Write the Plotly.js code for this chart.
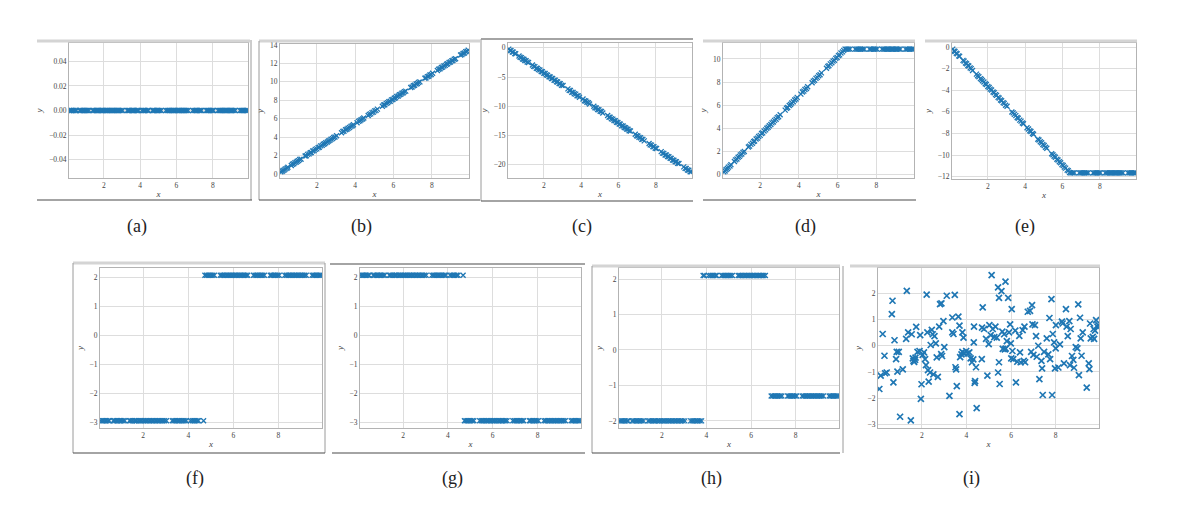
<!DOCTYPE html>
<html>
<head>
<meta charset="utf-8">
<script src="https://cdn.plot.ly/plotly-3.0.1.min.js"></script>
<style>
  html, body { margin: 0; padding: 0; background: #fff; }
  #chart { width: 1188px; height: 507px; }
</style>
</head>
<body>
<div id="chart"></div>
<script>
// shared x sample used by panels (a)-(h)
const xs = [
  0.12, 0.19, 0.24, 0.31, 0.36, 0.44, 0.49,
  0.67, 0.73, 0.80, 0.86, 0.93, 0.98, 1.05, 1.11, 1.18,
  1.39, 1.45, 1.52, 1.60, 1.66, 1.71, 1.79, 1.86, 1.92, 2.00, 2.07, 2.13, 2.20, 2.28, 2.34, 2.41, 2.47, 2.55, 2.61, 2.68, 2.74, 2.82, 2.88, 2.95, 3.03,
  3.29, 3.36, 3.42, 3.50, 3.57, 3.63, 3.71, 3.78, 3.85, 3.91,
  4.10, 4.18, 4.25, 4.31, 4.39, 4.45,
  4.68, 4.74, 4.81, 4.88, 4.95, 5.02, 5.09, 5.16,
  5.42, 5.49, 5.55, 5.62, 5.70, 5.76, 5.83, 5.90, 5.97, 6.04, 6.10, 6.17, 6.25, 6.31, 6.38,
  6.44, 6.51, 6.57, 6.64, 6.90, 6.97, 7.04, 7.10, 7.18, 7.25, 7.31, 7.38,
  7.64, 7.70, 7.77, 7.84, 7.90, 7.97, 8.04, 8.29, 8.36, 8.43, 8.50, 8.56, 8.63, 8.70, 8.77, 8.83, 8.90, 8.97, 9.04, 9.10, 9.17, 9.24,
  9.50, 9.57, 9.63, 9.70, 9.77, 9.84, 9.90
];

const yA = [
  0, 0, 0, 0, 0, 0, 0,
  0, 0, 0, 0, 0, 0, 0, 0, 0,
  0, 0, 0, 0, 0, 0, 0, 0, 0, 0, 0, 0, 0, 0, 0, 0, 0, 0, 0, 0, 0, 0, 0, 0, 0,
  0, 0, 0, 0, 0, 0, 0, 0, 0, 0,
  0, 0, 0, 0, 0, 0,
  0, 0, 0, 0, 0, 0, 0, 0,
  0, 0, 0, 0, 0, 0, 0, 0, 0, 0, 0, 0, 0, 0, 0,
  0, 0, 0, 0, 0, 0, 0, 0, 0, 0, 0, 0,
  0, 0, 0, 0, 0, 0, 0, 0, 0, 0, 0, 0, 0, 0, 0, 0, 0, 0, 0, 0, 0, 0,
  0, 0, 0, 0, 0, 0, 0
];

const yB = [
  0.23, 0.29, 0.39, 0.45, 0.56, 0.62, 0.73,
  0.93, 1.06, 1.11, 1.24, 1.29, 1.39, 1.45, 1.57, 1.62,
  1.95, 1.99, 2.13, 2.19, 2.31, 2.34, 2.49, 2.54, 2.67, 2.73, 2.86, 2.91, 3.05, 3.11, 3.23, 3.28, 3.40, 3.47, 3.59, 3.65, 3.77, 3.84, 3.96, 4.01, 4.16,
  4.47, 4.61, 4.65, 4.80, 4.85, 4.97, 5.04, 5.17, 5.23, 5.35,
  5.57, 5.71, 5.77, 5.89, 5.96, 6.08,
  6.35, 6.47, 6.52, 6.66, 6.71, 6.85, 6.90, 7.04,
  7.35, 7.48, 7.52, 7.66, 7.73, 7.85, 7.90, 8.04, 8.09, 8.22, 8.27, 8.40, 8.47, 8.59, 8.64,
  8.76, 8.82, 8.94, 8.99, 9.39, 9.44, 9.57, 9.62, 9.76, 9.82, 9.94, 9.99,
  10.38, 10.43, 10.56, 10.61, 10.74, 10.79, 10.92, 11.22, 11.36, 11.41, 11.55, 11.59, 11.72, 11.78, 11.91, 11.95, 12.09, 12.14, 12.27, 12.32, 12.45, 12.50,
  12.90, 12.95, 13.07, 13.13, 13.26, 13.31, 13.44
];

const yC = [
  -0.22, -0.45, -0.48, -0.71, -0.73, -0.99, -1.01,
  -1.40, -1.62, -1.68, -1.90, -1.96, -2.16, -2.22, -2.44, -2.50,
  -2.95, -3.17, -3.22, -3.49, -3.52, -3.73, -3.80, -4.05, -4.08, -4.36, -4.40, -4.63, -4.68, -4.96, -4.98, -5.24, -5.26, -5.54, -5.56, -5.82, -5.84, -6.12, -6.14, -6.40, -6.46,
  -7.02, -7.28, -7.30, -7.59, -7.63, -7.86, -7.93, -8.19, -8.23, -8.47,
  -8.77, -9.05, -9.09, -9.33, -9.39, -9.63,
  -10.01, -10.25, -10.29, -10.55, -10.59, -10.85, -10.89, -11.15,
  -11.60, -11.86, -11.88, -12.14, -12.21, -12.44, -12.48, -12.75, -12.79, -13.05, -13.07, -13.33, -13.39, -13.63, -13.67,
  -13.91, -13.95, -14.19, -14.23, -14.79, -15.05, -15.09, -15.33, -15.39, -15.65, -15.67, -15.93,
  -16.38, -16.62, -16.66, -16.92, -16.94, -17.20, -17.24, -17.77, -18.03, -18.07, -18.34, -18.35, -18.61, -18.66, -18.92, -18.93, -19.20, -19.24, -19.50, -19.52, -19.78, -19.82,
  -20.38, -20.64, -20.65, -20.92, -20.96, -21.22, -21.24
];

const yD = [
  0.22, 0.30, 0.43, 0.51, 0.63, 0.73, 0.85,
  1.12, 1.26, 1.34, 1.48, 1.56, 1.69, 1.77, 1.91, 1.99,
  2.38, 2.45, 2.60, 2.70, 2.84, 2.89, 3.06, 3.14, 3.28, 3.38, 3.54, 3.60, 3.76, 3.86, 4.00, 4.08, 4.22, 4.32, 4.46, 4.54, 4.68, 4.77, 4.92, 5.00, 5.17,
  5.57, 5.73, 5.79, 5.97, 6.05, 6.19, 6.29, 6.45, 6.53, 6.67,
  6.95, 7.13, 7.21, 7.35, 7.44, 7.59,
  7.94, 8.08, 8.16, 8.32, 8.40, 8.55, 8.63, 8.79,
  9.19, 9.35, 9.42, 9.57, 9.67, 9.81, 9.89, 10.05, 10.13, 10.29, 10.35, 10.51, 10.61, 10.74, 10.85,
  10.85, 10.85, 10.85, 10.85, 10.85, 10.85, 10.85, 10.85, 10.85, 10.85, 10.85, 10.85,
  10.85, 10.85, 10.85, 10.85, 10.85, 10.85, 10.85, 10.85, 10.85, 10.85, 10.85, 10.85, 10.85, 10.85, 10.85, 10.85, 10.85, 10.85, 10.85, 10.85, 10.85, 10.85,
  10.85, 10.85, 10.85, 10.85, 10.85, 10.85, 10.85
];

const yE = [
  -0.20, -0.37, -0.42, -0.58, -0.64, -0.82, -0.87,
  -1.24, -1.31, -1.48, -1.55, -1.71, -1.76, -1.93, -2.00, -2.17,
  -2.51, -2.66, -2.75, -2.93, -3.00, -3.13, -3.24, -3.41, -3.47, -3.66, -3.75, -3.90, -3.98, -4.17, -4.24, -4.41, -4.48, -4.66, -4.73, -4.90, -4.97, -5.15, -5.22, -5.39, -5.49,
  -6.01, -6.10, -6.24, -6.35, -6.52, -6.59, -6.77, -6.86, -7.03, -7.10,
  -7.48, -7.59, -7.76, -7.82, -8.01, -8.08,
  -8.54, -8.61, -8.77, -8.86, -9.03, -9.12, -9.28, -9.37,
  -9.88, -9.97, -10.12, -10.21, -10.39, -10.46, -10.63, -10.72, -10.89, -10.97, -11.12, -11.21, -11.40, -11.46, -11.62,
  -11.65, -11.65, -11.65, -11.65, -11.65, -11.65, -11.65, -11.65, -11.65, -11.65, -11.65, -11.65,
  -11.65, -11.65, -11.65, -11.65, -11.65, -11.65, -11.65, -11.65, -11.65, -11.65, -11.65, -11.65, -11.65, -11.65, -11.65, -11.65, -11.65, -11.65, -11.65, -11.65, -11.65, -11.65,
  -11.65, -11.65, -11.65, -11.65, -11.65, -11.65, -11.65
];

const yF = [
  -2.95, -2.95, -2.95, -2.95, -2.95, -2.95, -2.95,
  -2.95, -2.95, -2.95, -2.95, -2.95, -2.95, -2.95, -2.95, -2.95,
  -2.95, -2.95, -2.95, -2.95, -2.95, -2.95, -2.95, -2.95, -2.95, -2.95, -2.95, -2.95, -2.95, -2.95, -2.95, -2.95, -2.95, -2.95, -2.95, -2.95, -2.95, -2.95, -2.95, -2.95, -2.95,
  -2.95, -2.95, -2.95, -2.95, -2.95, -2.95, -2.95, -2.95, -2.95, -2.95,
  -2.95, -2.95, -2.95, -2.95, -2.95, -2.95,
  -2.95, 2.07, 2.07, 2.07, 2.07, 2.07, 2.07, 2.07,
  2.07, 2.07, 2.07, 2.07, 2.07, 2.07, 2.07, 2.07, 2.07, 2.07, 2.07, 2.07, 2.07, 2.07, 2.07,
  2.07, 2.07, 2.07, 2.07, 2.07, 2.07, 2.07, 2.07, 2.07, 2.07, 2.07, 2.07,
  2.07, 2.07, 2.07, 2.07, 2.07, 2.07, 2.07, 2.07, 2.07, 2.07, 2.07, 2.07, 2.07, 2.07, 2.07, 2.07, 2.07, 2.07, 2.07, 2.07, 2.07, 2.07,
  2.07, 2.07, 2.07, 2.07, 2.07, 2.07, 2.07
];

const yG = [
  2.07, 2.07, 2.07, 2.07, 2.07, 2.07, 2.07,
  2.07, 2.07, 2.07, 2.07, 2.07, 2.07, 2.07, 2.07, 2.07,
  2.07, 2.07, 2.07, 2.07, 2.07, 2.07, 2.07, 2.07, 2.07, 2.07, 2.07, 2.07, 2.07, 2.07, 2.07, 2.07, 2.07, 2.07, 2.07, 2.07, 2.07, 2.07, 2.07, 2.07, 2.07,
  2.07, 2.07, 2.07, 2.07, 2.07, 2.07, 2.07, 2.07, 2.07, 2.07,
  2.07, 2.07, 2.07, 2.07, 2.07, 2.07,
  2.07, -2.95, -2.95, -2.95, -2.95, -2.95, -2.95, -2.95,
  -2.95, -2.95, -2.95, -2.95, -2.95, -2.95, -2.95, -2.95, -2.95, -2.95, -2.95, -2.95, -2.95, -2.95, -2.95,
  -2.95, -2.95, -2.95, -2.95, -2.95, -2.95, -2.95, -2.95, -2.95, -2.95, -2.95, -2.95,
  -2.95, -2.95, -2.95, -2.95, -2.95, -2.95, -2.95, -2.95, -2.95, -2.95, -2.95, -2.95, -2.95, -2.95, -2.95, -2.95, -2.95, -2.95, -2.95, -2.95, -2.95, -2.95,
  -2.95, -2.95, -2.95, -2.95, -2.95, -2.95, -2.95
];

const yH = [
  -2.0, -2.0, -2.0, -2.0, -2.0, -2.0, -2.0,
  -2.0, -2.0, -2.0, -2.0, -2.0, -2.0, -2.0, -2.0, -2.0,
  -2.0, -2.0, -2.0, -2.0, -2.0, -2.0, -2.0, -2.0, -2.0, -2.0, -2.0, -2.0, -2.0, -2.0, -2.0, -2.0, -2.0, -2.0, -2.0, -2.0, -2.0, -2.0, -2.0, -2.0, -2.0,
  -2.0, -2.0, -2.0, -2.0, -2.0, -2.0, -2.0, -2.0, 2.1, 2.1,
  2.1, 2.1, 2.1, 2.1, 2.1, 2.1,
  2.1, 2.1, 2.1, 2.1, 2.1, 2.1, 2.1, 2.1,
  2.1, 2.1, 2.1, 2.1, 2.1, 2.1, 2.1, 2.1, 2.1, 2.1, 2.1, 2.1, 2.1, 2.1, 2.1,
  2.1, 2.1, 2.1, 2.1, -1.3, -1.3, -1.3, -1.3, -1.3, -1.3, -1.3, -1.3,
  -1.3, -1.3, -1.3, -1.3, -1.3, -1.3, -1.3, -1.3, -1.3, -1.3, -1.3, -1.3, -1.3, -1.3, -1.3, -1.3, -1.3, -1.3, -1.3, -1.3, -1.3, -1.3,
  -1.3, -1.3, -1.3, -1.3, -1.3, -1.3, -1.3
];

// panel (i): noisy scatter
const xI = [
  0.10, 0.16, 0.25, 0.33, 0.36, 0.43, 0.66, 0.69, 0.73, 0.78, 0.85, 0.88, 0.91, 0.97, 1.03, 1.15,
  1.33, 1.30, 1.39, 1.51, 1.55, 1.60, 1.63, 1.66, 1.70, 1.72, 1.75, 1.81, 1.90, 1.93, 1.99, 1.96,
  2.04, 2.10, 2.15, 2.19, 2.22, 2.25, 2.28, 2.31, 2.37, 2.40, 2.45, 2.49, 2.52, 2.57, 2.63, 2.67,
  2.72, 2.78, 2.82, 2.88, 2.87, 2.91, 2.97, 3.01, 3.12, 3.24, 3.37, 3.37, 3.42, 3.48, 3.51, 3.54,
  3.57, 3.64, 3.69, 3.69, 3.72, 3.78, 3.82, 3.82, 3.87, 3.91, 3.99, 4.06, 4.13, 4.19, 4.25, 4.31,
  4.33, 4.34, 4.39, 4.37, 4.43, 4.46, 4.69, 4.73, 4.70, 4.79, 4.88, 4.94, 5.00, 5.03, 5.09, 5.13,
  5.18, 5.25, 5.30, 5.36, 5.42, 5.42, 5.46, 5.46, 5.49, 5.57, 5.61, 5.63, 5.69, 5.72, 5.75, 5.76,
  5.81, 5.87, 5.91, 5.96, 5.99, 6.01, 6.03, 6.06, 6.10, 6.19, 6.22, 6.28, 6.37, 6.40, 6.43, 6.52,
  6.57, 6.60, 6.63, 6.75, 6.85, 6.90, 6.94, 6.96, 7.00, 7.07, 7.12, 7.15, 7.22, 7.27, 7.36, 7.39,
  7.42, 7.48, 7.60, 7.67, 7.72, 7.75, 7.81, 7.84, 7.87, 7.93, 7.97, 8.00, 8.01, 8.12, 8.19, 8.28,
  8.31, 8.37, 8.46, 8.49, 8.54, 8.61, 8.64, 8.67, 8.73, 8.79, 8.82, 8.90, 8.97, 9.01, 9.04, 9.09,
  9.12, 9.16, 9.21, 9.39, 9.48, 9.51, 9.54, 9.57, 9.66, 9.72, 9.76, 9.81, 9.87, 9.91, 9.70
];
const yI = [
  -1.65, -1.14, 0.45, -0.38, -1.05, -1.02, 1.21, 1.72, -1.40, 0.21, -0.51, -0.23, -0.99, -0.23, -2.71, -0.90,
  2.10, 0.26, 0.51, -2.85, 0.44, -0.48, -0.58, -0.62, -0.54, -0.45, 0.72, -0.23, -0.20, 0.41, -1.47, -2.03,
  -0.35, -0.25, -0.51, -0.74, 1.95, 0.51, -0.93, -1.37, -1.02, 0.03, 0.61, 0.44, -1.09, 0.37, 0.09, -0.44,
  -1.19, 0.73, 1.59, 1.62, -0.32, -0.39, 0.94, -0.05, 1.91, -1.91, 1.08, 0.51, 0.45, 1.94, -0.82, -0.90,
  -1.54, 1.11, 0.77, -2.61, -0.43, -0.33, -0.23, 0.51, 0.31, -0.29, -0.20, -0.29, -0.25, -0.48, -0.63, -0.52,
  0.13, 0.73, -1.35, -1.42, -0.82, -2.38, -0.51, 1.47, 0.69, 0.64, 0.26, -1.14, 0.06, 0.79, 0.41, 2.70,
  0.64, 0.33, 0.73, 0.31, 2.23, -1.02, 1.83, -0.63, -1.46, 2.09, 0.54, -0.12, 0.44, -0.14, 2.45, -0.11,
  0.18, 1.83, 0.51, 0.82, 0.09, -0.48, 1.40, -0.20, -0.51, 0.58, -1.40, -0.61, 0.38, -0.25, -0.63, 0.60,
  -0.58, 0.73, -0.63, 1.30, 1.33, -0.23, 1.55, 0.82, -0.35, 0.79, 0.37, -0.42, 0.00, -1.27, -0.58, -0.86,
  -1.88, -0.23, 0.28, -0.33, 1.06, -0.51, 1.78, -1.88, 0.45, 0.13, -0.86, -0.10, 0.79, -0.83, 0.05, 0.92,
  0.85, -0.67, 1.40, 0.73, 0.37, 0.94, -0.74, 0.64, -0.39, -0.54, -0.84, -0.05, -0.10, 1.58, -1.12, 1.07,
  0.28, -0.38, 0.51, -1.60, -0.67, -0.89, 0.85, 0.28, 0.34, 0.26, 0.58, 0.98, 0.73, 0.79, 0.64
];

const captions = ['(a)', '(b)', '(c)', '(d)', '(e)', '(f)', '(g)', '(h)', '(i)'];

const W = 1188, H = 507;
const BLUE = '#1f77b4';
const SERIF = 'Liberation Serif, DejaVu Serif, serif';

// plot-area boxes in pixels: [left, right, top, bottom]
const panels = [
  { x: xs, y: yA, box: [69, 248, 43, 178],   xr: [0.08, 9.94], yr: [-0.055, 0.055], dy: 0.02, fmt: '.2f', cap: [137, 226] },
  { x: xs, y: yB, box: [280, 469, 44, 178],  xr: [0.08, 9.94], yr: [-0.43, 14.1],   dy: 2, cap: [361, 226] },
  { x: xs, y: yC, box: [508, 692, 43, 178],  xr: [0.08, 9.94], yr: [-22.29, 0.83],  dy: 5, cap: [582, 226] },
  { x: xs, y: yD, box: [723, 914, 43, 178],  xr: [0.08, 9.94], yr: [-0.31, 11.38],  dy: 2, cap: [805, 226] },
  { x: xs, y: yE, box: [952, 1136, 43, 179], xr: [0.08, 9.94], yr: [-12.22, 0.37],  dy: 2, cap: [1025, 226] },
  { x: xs, y: yF, box: [100, 322, 268, 428], xr: [0.08, 9.94], yr: [-3.2, 2.32],    dy: 1, cap: [195, 478] },
  { x: xs, y: yG, box: [360, 581, 268, 428], xr: [0.08, 9.94], yr: [-3.2, 2.32],    dy: 1, cap: [452, 478] },
  { x: xs, y: yH, box: [619, 839, 268, 428], xr: [0.08, 9.94], yr: [-2.2, 2.31],    dy: 1, cap: [711, 478] },
  { x: xI, y: yI, box: [878, 1099, 268, 428], xr: [0.04, 9.94], yr: [-3.14, 2.97],  dy: 1, big: true, cap: [971, 478] },
];

const axisBase = {
  showline: true, mirror: true, linecolor: '#b3b3b3', linewidth: 1,
  showgrid: true, gridcolor: '#dddddd', gridwidth: 1,
  zeroline: false, ticks: '', fixedrange: true,
  tickfont: { family: SERIF, size: 7.5, color: '#444' },
};

const traces = [];
const layout = {
  width: W, height: H,
  margin: { l: 0, r: 0, t: 0, b: 0 },
  paper_bgcolor: '#fff', plot_bgcolor: '#fff',
  showlegend: false,
  shapes: [], annotations: [],
};

panels.forEach((p, i) => {
  const n = i === 0 ? '' : String(i + 1);
  const [l, r, t, b] = p.box;
  traces.push({
    x: p.x, y: p.y, xaxis: 'x' + n, yaxis: 'y' + n,
    type: 'scatter', mode: 'markers', hoverinfo: 'skip',
    marker: { symbol: 'x-thin', size: p.big ? 6 : 5, color: BLUE,
      line: { color: BLUE, width: p.big ? 1.7 : 1.3 } },
  });
  layout['xaxis' + n] = Object.assign({}, axisBase, {
    domain: [l / W, r / W], anchor: 'y' + n, range: p.xr,
    tick0: 0, dtick: 2,
    title: { text: '<i>x</i>', font: { family: SERIF, size: 9, color: '#444' }, standoff: 1 },
  });
  layout['yaxis' + n] = Object.assign({}, axisBase, {
    domain: [1 - b / H, 1 - t / H], anchor: 'x' + n, range: p.yr,
    tick0: 0, dtick: p.dy, tickformat: p.fmt || '',
    title: { text: '<i>y</i>', font: { family: SERIF, size: 9, color: '#444' }, standoff: 4 },
  });
  layout.annotations.push({
    xref: 'paper', yref: 'paper', x: p.cap[0] / W, y: 1 - p.cap[1] / H,
    text: captions[i], showarrow: false, xanchor: 'center', yanchor: 'middle',
    font: { family: SERIF, size: 18, color: '#222' },
  });
});

// screenshot frame edges around the sub-figures
function edge(x0, y0, x1, y1, color, w) {
  layout.shapes.push({ type: 'line', xref: 'paper', yref: 'paper',
    x0: x0 / W, y0: 1 - y0 / H, x1: x1 / W, y1: 1 - y1 / H,
    line: { color: color, width: w } });
}
const DARK = '#4a4a4a', SOFT = '#d4d4d4', MID = '#9a9a9a';
edge(37, 41, 250, 41, SOFT, 3);  edge(251, 40, 251, 200, MID, 1);  edge(37, 200, 252, 200, DARK, 1.2);
edge(259, 41, 480, 41, SOFT, 3); edge(259, 41, 259, 200, MID, 1);  edge(259, 200, 480, 200, DARK, 1.2);
edge(481, 39, 693, 39, DARK, 1.2); edge(481, 39, 481, 201, MID, 1); edge(481, 201, 693, 201, DARK, 1.2);
edge(703, 41, 915, 41, SOFT, 3); edge(703, 200, 916, 200, DARK, 1.2);
edge(925, 41, 1137, 41, SOFT, 3);
edge(73, 263, 325, 263, SOFT, 3); edge(73, 263, 73, 453, MID, 1); edge(325, 263, 325, 453, MID, 1); edge(73, 453, 325, 453, DARK, 1.2);
edge(330, 264, 585, 264, DARK, 1.2); edge(332, 453, 585, 453, DARK, 1.2);
edge(592, 266, 840, 266, SOFT, 3); edge(592, 266, 592, 453, MID, 1); edge(843, 266, 843, 453, MID, 1); edge(592, 453, 840, 453, DARK, 1.2);
edge(850, 266, 1100, 266, SOFT, 3);

Plotly.newPlot('chart', traces, layout, { displayModeBar: false, staticPlot: true });
</script>
</body>
</html>
